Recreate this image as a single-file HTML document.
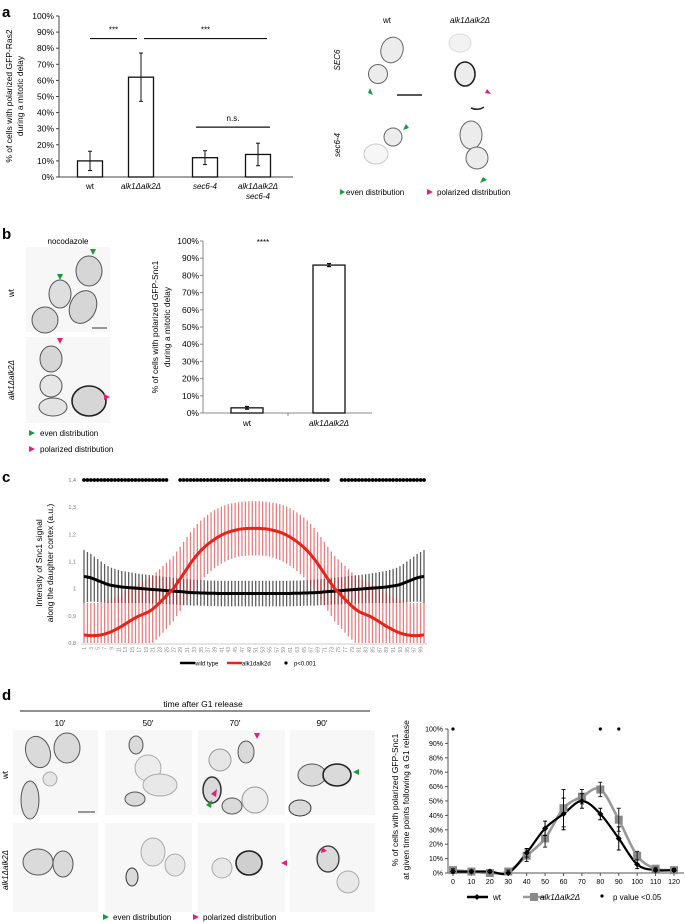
<!DOCTYPE html>
<html><head><meta charset="utf-8"><style>
html,body{margin:0;padding:0;background:#fff;}
svg{display:block;font-family:"Liberation Sans",Arial,sans-serif;}
</style></head><body>
<svg id="fig" width="685" height="924" viewBox="0 0 685 924" xmlns="http://www.w3.org/2000/svg">
<g id="pa"></g>
<g id="paimg">
 <text x="2" y="17" font-size="15" font-weight="bold">a</text>
 <text x="387" y="23" font-size="8" text-anchor="middle">wt</text>
 <text x="470" y="23" font-size="8" font-style="italic" text-anchor="middle">alk1Δalk2Δ</text>
 <text transform="translate(340,60) rotate(-90)" font-size="8" font-style="italic" text-anchor="middle">SEC6</text>
 <text transform="translate(340,145) rotate(-90)" font-size="8" font-style="italic" text-anchor="middle">sec6-4</text>
 <g fill="#ececec" stroke="#666" stroke-width="1">
  <ellipse cx="392" cy="50" rx="11" ry="13" transform="rotate(20 392 50)"/>
  <circle cx="378" cy="74" r="9.5"/>
  <ellipse cx="465" cy="74" rx="10" ry="12" stroke="#222" stroke-width="1.6"/>
  <ellipse cx="460" cy="43" rx="11" ry="9" stroke="#ddd" fill="#f2f2f2"/>
  <circle cx="393" cy="137" r="9"/>
  <ellipse cx="376" cy="154" rx="12" ry="10" stroke="#ccc" fill="#f6f6f6"/>
  <ellipse cx="471" cy="135" rx="11" ry="14"/>
  <circle cx="477" cy="158" r="11"/>
 </g>
 <path d="M484,107 Q478,111 471,108" stroke="#222" stroke-width="1.5" fill="none"/>
 <line x1="397" y1="95" x2="422" y2="95" stroke="#222" stroke-width="1.5"/>
 <polygon points="370,88 373,95 368,93" fill="#1a9a3a"/>
 <polygon points="406,124 409,128 403,130" fill="#1a9a3a"/>
 <polygon points="487,89 491,94 485,93" fill="#e0207a"/>
 <polygon points="483,177 487,180 480,183" fill="#1a9a3a"/>
 <polygon points="340,189 345,192 340,195" fill="#1a9a3a"/>
 <text x="346" y="195" font-size="8">even distribution</text>
 <polygon points="427,189 433,192 427,195" fill="#e0207a"/>
 <text x="437" y="195" font-size="8">polarized distribution</text>
</g>
<g id="pbimg">
 <text x="2" y="239" font-size="15" font-weight="bold">b</text>
 <text x="68" y="244" font-size="8" text-anchor="middle">nocodazole</text>
 <text transform="translate(14,293) rotate(-90)" font-size="8" text-anchor="middle">wt</text>
 <text transform="translate(14,380) rotate(-90)" font-size="8" font-style="italic" text-anchor="middle">alk1Δalk2Δ</text>
 <rect x="26" y="247" width="84" height="85" fill="#f7f7f7"/>
 <rect x="26" y="337" width="84" height="86" fill="#f7f7f7"/>
 <g fill="#d6d6d6" stroke="#555" stroke-width="1">
  <ellipse cx="89" cy="271" rx="13" ry="15"/>
  <ellipse cx="60" cy="294" rx="11" ry="14" fill="#dedede"/>
  <ellipse cx="83" cy="307" rx="13" ry="17" transform="rotate(25 83 307)"/>
  <circle cx="45" cy="320" r="13"/>
  <ellipse cx="51" cy="359" rx="11" ry="13"/>
  <circle cx="51" cy="386" r="11" fill="#e6e6e6"/>
  <ellipse cx="53" cy="407" rx="14" ry="9" fill="#e3e3e3"/>
  <ellipse cx="89" cy="401" rx="17" ry="15" stroke="#222" stroke-width="1.6"/>
 </g>
 <line x1="92" y1="328" x2="107" y2="328" stroke="#777" stroke-width="1.5"/>
 <polygon points="90,249 96,249 93,255" fill="#1a9a3a"/>
 <polygon points="57,274 63,274 60,280" fill="#1a9a3a"/>
 <polygon points="57,338 63,338 60,344" fill="#e0207a"/>
 <polygon points="104,394 110,397 104,400" fill="#e0207a"/>
 <polygon points="29,430 35,433 29,436" fill="#1a9a3a"/>
 <text x="40" y="436" font-size="8">even distribution</text>
 <polygon points="29,446 35,449 29,452" fill="#e0207a"/>
 <text x="40" y="452" font-size="8">polarized distribution</text>
</g>
<g id="pb"></g>
<g id="pc">
 <text x="2" y="482" font-size="15" font-weight="bold">c</text>
</g>
<g id="pdimg">
 <text x="2" y="700" font-size="15" font-weight="bold">d</text>
 <text x="203" y="707" font-size="8.5" text-anchor="middle">time after G1 release</text>
 <line x1="20" y1="711" x2="370" y2="711" stroke="#222" stroke-width="1"/>
 <text x="60" y="726" font-size="8.5" text-anchor="middle">10'</text>
 <text x="148" y="726" font-size="8.5" text-anchor="middle">50'</text>
 <text x="235" y="726" font-size="8.5" text-anchor="middle">70'</text>
 <text x="322" y="726" font-size="8.5" text-anchor="middle">90'</text>
 <text transform="translate(8,775) rotate(-90)" font-size="8" text-anchor="middle">wt</text>
 <text transform="translate(8,870) rotate(-90)" font-size="8" font-style="italic" text-anchor="middle">alk1Δalk2Δ</text>
 <g fill="#f7f7f7">
  <rect x="13" y="730" width="85" height="85"/><rect x="105" y="730" width="87" height="85"/>
  <rect x="198" y="730" width="87" height="85"/><rect x="290" y="730" width="85" height="85"/>
  <rect x="13" y="823" width="85" height="89"/><rect x="105" y="823" width="87" height="89"/>
  <rect x="198" y="823" width="87" height="89"/><rect x="290" y="823" width="85" height="89"/>
 </g>
 <g fill="#dadada" stroke="#555" stroke-width="1">
  <ellipse cx="38" cy="752" rx="12" ry="16" transform="rotate(-20 38 752)"/>
  <ellipse cx="67" cy="748" rx="13" ry="15"/>
  <circle cx="50" cy="779" r="7" fill="#e6e6e6" stroke="#aaa"/>
  <ellipse cx="30" cy="800" rx="9" ry="19"/>
  <ellipse cx="136" cy="745" rx="7" ry="9"/>
  <circle cx="148" cy="768" r="13" fill="#ececec" stroke="#aaa"/>
  <ellipse cx="160" cy="785" rx="17" ry="11" fill="#e8e8e8" stroke="#aaa"/>
  <ellipse cx="135" cy="799" rx="10" ry="7"/>
  <ellipse cx="246" cy="752" rx="8" ry="11"/>
  <circle cx="220" cy="760" r="11" fill="#e6e6e6" stroke="#999"/>
  <ellipse cx="212" cy="790" rx="9" ry="13" stroke="#333" stroke-width="1.5"/>
  <circle cx="255" cy="800" r="13" fill="#ececec" stroke="#999"/>
  <ellipse cx="232" cy="806" rx="10" ry="8"/>
  <ellipse cx="312" cy="775" rx="14" ry="11"/>
  <ellipse cx="337" cy="775" rx="14" ry="11" stroke="#222" stroke-width="1.6"/>
  <ellipse cx="300" cy="808" rx="11" ry="8" stroke="#333"/>
  <ellipse cx="38" cy="862" rx="15" ry="13"/>
  <ellipse cx="63" cy="864" rx="10" ry="13"/>
  <ellipse cx="153" cy="852" rx="12" ry="14" fill="#e8e8e8" stroke="#aaa"/>
  <ellipse cx="175" cy="865" rx="10" ry="11" fill="#e8e8e8" stroke="#aaa"/>
  <ellipse cx="132" cy="877" rx="6" ry="9" stroke="#333"/>
  <ellipse cx="222" cy="868" rx="10" ry="10" fill="#e8e8e8" stroke="#aaa"/>
  <ellipse cx="249" cy="863" rx="13" ry="12" fill="#cfcfcf" stroke="#222" stroke-width="1.6"/>
  <ellipse cx="328" cy="859" rx="11" ry="13" stroke="#333" stroke-width="1.3"/>
  <ellipse cx="348" cy="882" rx="11" ry="11" fill="#e8e8e8" stroke="#aaa"/>
 </g>
 <line x1="78" y1="812" x2="95" y2="812" stroke="#777" stroke-width="1.5"/>
 <polygon points="254,733 260,733 257,739" fill="#e0207a"/>
 <polygon points="217,789 211,794 216,797" fill="#e0207a"/>
 <polygon points="212,800 206,805 211,808" fill="#1a9a3a"/>
 <polygon points="353,772 359,769 359,775" fill="#1a9a3a"/>
 <polygon points="287,860 281,863 287,866" fill="#e0207a"/>
 <polygon points="322,847 327,851 321,853" fill="#e0207a"/>
 <polygon points="103,914 109,917 103,920" fill="#1a9a3a"/>
 <text x="113" y="920" font-size="8">even distribution</text>
 <polygon points="193,914 199,917 193,920" fill="#e0207a"/>
 <text x="203" y="920" font-size="8">polarized distribution</text>
</g>
<g id="pd"></g>
</svg>
<script>
// ---------- Panel a data ----------
const aCategories = ["wt","alk1Δalk2Δ","sec6-4","alk1Δalk2Δ|sec6-4"];
const aValues = [10, 62, 12, 14];
const aErrors = [6, 15, 4.3, 7];
const aTicks = [0,10,20,30,40,50,60,70,80,90,100];
// ---------- Panel b data ----------
const bCategories = ["wt","alk1Δalk2Δ"];
const bValues = [3, 86];
const bErrors = [0.8, 0.9];
const bTicks = [0,10,20,30,40,50,60,70,80,90,100];
// ---------- Panel c data ----------
const cWildType = [1.045,1.043,1.04,1.035,1.03,1.025,1.02,1.015,1.012,1.01,1.008,1.006,1.005,1.004,1.003,1.002,1.001,1.0,0.999,0.998,0.997,0.996,0.995,0.994,0.993,0.992,0.991,0.99,0.989,0.988,0.987,0.986,0.985,0.985,0.984,0.984,0.983,0.983,0.983,0.982,0.982,0.982,0.982,0.982,0.982,0.982,0.982,0.982,0.982,0.982,0.982,0.982,0.982,0.982,0.982,0.982,0.982,0.982,0.982,0.982,0.982,0.983,0.983,0.983,0.984,0.984,0.985,0.985,0.986,0.987,0.988,0.989,0.99,0.991,0.992,0.993,0.994,0.995,0.996,0.997,0.998,0.999,1.0,1.001,1.002,1.003,1.004,1.005,1.006,1.008,1.01,1.012,1.015,1.02,1.025,1.03,1.035,1.04,1.043,1.045];
const cWildTypeErr = [0.097,0.092,0.088,0.083,0.079,0.075,0.071,0.068,0.065,0.063,0.061,0.059,0.058,0.057,0.056,0.055,0.054,0.053,0.053,0.052,0.052,0.051,0.051,0.05,0.05,0.05,0.049,0.049,0.049,0.048,0.048,0.048,0.048,0.047,0.047,0.047,0.047,0.047,0.047,0.047,0.047,0.047,0.047,0.047,0.047,0.047,0.047,0.047,0.047,0.047,0.047,0.047,0.047,0.047,0.047,0.047,0.047,0.047,0.047,0.047,0.047,0.047,0.047,0.047,0.047,0.047,0.047,0.048,0.048,0.048,0.048,0.049,0.049,0.049,0.05,0.05,0.05,0.051,0.051,0.052,0.052,0.053,0.053,0.054,0.055,0.056,0.057,0.058,0.059,0.061,0.063,0.065,0.068,0.071,0.075,0.079,0.083,0.088,0.092,0.097];
const cMutant = [0.83,0.828,0.827,0.827,0.828,0.83,0.833,0.837,0.842,0.848,0.855,0.862,0.87,0.878,0.886,0.893,0.9,0.905,0.91,0.916,0.925,0.936,0.948,0.961,0.974,0.987,1.0,1.018,1.036,1.055,1.074,1.093,1.11,1.126,1.14,1.152,1.163,1.173,1.182,1.19,1.197,1.203,1.208,1.212,1.215,1.218,1.22,1.221,1.222,1.222,1.222,1.222,1.221,1.22,1.218,1.215,1.212,1.208,1.203,1.197,1.19,1.182,1.173,1.163,1.152,1.14,1.126,1.11,1.093,1.074,1.055,1.036,1.018,1.0,0.987,0.974,0.961,0.948,0.936,0.925,0.916,0.91,0.905,0.9,0.893,0.886,0.878,0.87,0.862,0.855,0.848,0.842,0.837,0.833,0.83,0.828,0.827,0.827,0.828,0.83];
const cMutantErr = [0.12,0.12,0.12,0.12,0.12,0.12,0.12,0.12,0.12,0.12,0.12,0.12,0.12,0.12,0.12,0.12,0.12,0.121,0.122,0.123,0.124,0.124,0.124,0.123,0.122,0.121,0.12,0.119,0.118,0.117,0.116,0.115,0.114,0.112,0.111,0.11,0.109,0.108,0.107,0.106,0.105,0.104,0.103,0.102,0.101,0.1,0.1,0.1,0.1,0.1,0.1,0.1,0.1,0.1,0.1,0.101,0.102,0.103,0.104,0.105,0.106,0.107,0.108,0.109,0.11,0.111,0.112,0.114,0.115,0.116,0.117,0.118,0.119,0.12,0.121,0.122,0.123,0.124,0.124,0.124,0.123,0.122,0.121,0.12,0.12,0.12,0.12,0.12,0.12,0.12,0.12,0.12,0.12,0.12,0.12,0.12,0.12,0.12,0.12,0.12];
const cSignificant = [1,1,1,1,1,1,1,1,1,1,1,1,1,1,1,1,1,1,1,1,1,1,1,1,1,0,0,0,1,1,1,1,1,1,1,1,1,1,1,1,1,1,1,1,1,1,1,1,1,1,1,1,1,1,1,1,1,1,1,1,1,1,1,1,1,1,1,1,1,1,1,1,0,0,0,1,1,1,1,1,1,1,1,1,1,1,1,1,1,1,1,1,1,1,1,1,1,1,1,1];
const cTicks = [0.8,0.9,1,1.1,1.2,1.3,1.4];
// ---------- Panel d data ----------
const dTimes = [0,10,20,30,40,50,60,70,80,90,100,110,120];
const dWt = [1,1,1,0,14,31,41,50,41,24,6,2,2];
const dWtErr = [1,1,1,0.5,3,5,11,5,4,8,3,1,1];
const dAlk = [2,1,0,1,12,24,45,53,58,37,12,3,2];
const dAlkErr = [1,1,1,1,4,6,13,5,5,8,3,1,1];
const dSignificant = [0, 80, 90];
const dTicks = [0,10,20,30,40,50,60,70,80,90,100];

const NS = "http://www.w3.org/2000/svg";
function mk(parent, tag, attrs, text){
  const e = document.createElementNS(NS, tag);
  for (const k in attrs) e.setAttribute(k, attrs[k]);
  if (text !== undefined) e.textContent = text;
  parent.appendChild(e);
  return e;
}

// ===== Panel a =====
(function(){
  const g = document.getElementById('pa');
  const x0 = 59, x1 = 293, yb = 177, yt = 16;
  const y = v => yb - (v/100)*(yb-yt);
  const xs = i => 90 + i*((258-90)/3) + (i===1?-5:0) + (i===2?3:0);
  mk(g,'line',{x1:x0,y1:yt,x2:x0,y2:yb,stroke:'#444','stroke-width':1});
  mk(g,'line',{x1:x0,y1:yb,x2:x1,y2:yb,stroke:'#444','stroke-width':1});
  aTicks.forEach(t=>{
    mk(g,'line',{x1:x0-3,y1:y(t),x2:x0,y2:y(t),stroke:'#444'});
    const tx = mk(g,'text',{x:x0-5,y:y(t)+3,'font-size':8.5,'text-anchor':'end'}, t+'%');
    
    
  });
  const yt1 = mk(g,'text',{transform:'translate(12,96) rotate(-90)','font-size':8.5,'text-anchor':'middle'},'% of cells with polarized GFP-Ras2');
  
  
  const yt2 = mk(g,'text',{transform:'translate(23,96) rotate(-90)','font-size':8.5,'text-anchor':'middle'},'during a mitotic delay');
  
  
  aValues.forEach((v,i)=>{
    const cx = xs(i);
    const r = mk(g,'rect',{x:cx-12.5,y:y(v),width:25,height:yb-y(v),fill:'#fff',stroke:'#111','stroke-width':1.3});
    
    
    const e = aErrors[i];
    mk(g,'line',{x1:cx,y1:y(v+e),x2:cx,y2:y(v-e),stroke:'#111','stroke-width':1});
    mk(g,'line',{x1:cx-2,y1:y(v+e),x2:cx+2,y2:y(v+e),stroke:'#111','stroke-width':1});
    mk(g,'line',{x1:cx-2,y1:y(v-e),x2:cx+2,y2:y(v-e),stroke:'#111','stroke-width':1});
    const parts = aCategories[i].split('|');
    parts.forEach((p,j)=>{
      const t = mk(g,'text',{x:cx,y:189+j*10,'font-size':8,'text-anchor':'middle','font-style':i===0?'normal':'italic'},p);
      
      
    });
  });
  const sig = [[xs(0),xs(1)-4,86,'***'],[xs(1)+3,xs(3)+9,86,'***'],[xs(2)-9,xs(3)+12,31,'n.s.']];
  sig.forEach(s=>{
    const l = mk(g,'line',{x1:s[0],y1:y(s[2]),x2:s[1],y2:y(s[2]),stroke:'#111','stroke-width':1.2});
    
    
    const t = mk(g,'text',{x:(s[0]+s[1])/2,y:y(s[2])-6,'font-size':8,'text-anchor':'middle'},s[3]);
    
    
  });
})();

// ===== Panel b =====
(function(){
  const g = document.getElementById('pb');
  const x0 = 203, x1 = 372, yb = 413, yt = 241;
  const y = v => yb - (v/100)*(yb-yt);
  const xs = [247, 329];
  mk(g,'line',{x1:x0,y1:yt,x2:x0,y2:yb,stroke:'#888','stroke-width':1});
  mk(g,'line',{x1:x0,y1:yb,x2:x1,y2:yb,stroke:'#888','stroke-width':1});
  mk(g,'line',{x1:288,y1:yb,x2:288,y2:yb+3,stroke:'#888'});
  bTicks.forEach(t=>{
    mk(g,'line',{x1:x0-3,y1:y(t),x2:x0,y2:y(t),stroke:'#888'});
    const tx = mk(g,'text',{x:x0-4,y:y(t)+3,'font-size':8.5,'text-anchor':'end'}, t+'%');
    
    
  });
  const a1 = mk(g,'text',{transform:'translate(158,327) rotate(-90)','font-size':8.5,'text-anchor':'middle'},'% of cells with polarized GFP-Snc1');
  
  
  const a2 = mk(g,'text',{transform:'translate(170,327) rotate(-90)','font-size':8.5,'text-anchor':'middle'},'during a mitotic delay');
  
  
  bValues.forEach((v,i)=>{
    const cx = xs[i];
    const r = mk(g,'rect',{x:cx-16,y:y(v),width:32,height:yb-y(v),fill:'#fff',stroke:'#111','stroke-width':1.3});
    
    
    const e = bErrors[i];
    mk(g,'line',{x1:cx,y1:y(v+e),x2:cx,y2:y(v-e),stroke:'#111','stroke-width':1.2});
    mk(g,'line',{x1:cx-2,y1:y(v+e),x2:cx+2,y2:y(v+e),stroke:'#111','stroke-width':1.2});
    mk(g,'line',{x1:cx-2,y1:y(v-e),x2:cx+2,y2:y(v-e),stroke:'#111','stroke-width':1.2});
    const t = mk(g,'text',{x:cx,y:426,'font-size':8,'text-anchor':'middle','font-style':i===0?'normal':'italic'},bCategories[i]);
    
    
  });
  const s = mk(g,'text',{x:263,y:245,'font-size':8,'text-anchor':'middle'},'****');
  
  
})();

// ===== Panel c =====
(function(){
  const g = document.getElementById('pc');
  const x0 = 84, x1 = 424, yb = 643, yt = 480;
  const n = cWildType.length;
  const x = i => x0 + i*(x1-x0)/(n-1);
  const y = v => yb - (v-0.8)/(1.4-0.8)*(yb-yt);
  const defs = mk(g,'defs',{});
  const cp = mk(defs,'clipPath',{id:'cclip'});
  mk(cp,'rect',{x:x0-5,y:yt-10,width:x1-x0+10,height:yb-yt+10});
  mk(g,'line',{x1:x0-3,y1:yb+1,x2:x1+3,y2:yb+1,stroke:'#ddd','stroke-width':1.5});
  cTicks.forEach(t=>{
    const tx = mk(g,'text',{x:76,y:y(t)+2,'font-size':5.5,fill:'#777','text-anchor':'end'}, String(t).replace('.',','));
    
    
  });
  for (let i=0;i<n;i+=2){
    const tx = mk(g,'text',{transform:`translate(${x(i)+2},${yb+4}) rotate(-90)`,'font-size':5,fill:'#888','text-anchor':'end'}, String(i+1));
    
    
  }
  const a1 = mk(g,'text',{transform:'translate(42,563) rotate(-90)','font-size':8.5,'text-anchor':'middle'},'Intensity of Snc1 signal');
  
  
  const a2 = mk(g,'text',{transform:'translate(53,563) rotate(-90)','font-size':8.5,'text-anchor':'middle'},'along the daughter cortex (a.u.)');
  
  
  const cg = mk(g,'g',{'clip-path':'url(#cclip)'});
  for (let i=0;i<n;i++){
    const l = mk(cg,'line',{x1:x(i),y1:y(cWildType[i]+cWildTypeErr[i]),x2:x(i),y2:y(cWildType[i]-cWildTypeErr[i]),stroke:'rgba(40,40,40,0.75)','stroke-width':1.3});
    
    
  }
  for (let i=0;i<n;i++){
    const l = mk(cg,'line',{x1:x(i),y1:y(cMutant[i]+cMutantErr[i]),x2:x(i),y2:y(cMutant[i]-cMutantErr[i]),stroke:'rgba(215,40,40,0.6)','stroke-width':1.3});
    
    
  }
  const pw = mk(cg,'polyline',{points:cWildType.map((v,i)=>x(i)+','+y(v)).join(' '),fill:'none',stroke:'#000','stroke-width':3});
  
  
  const pm = mk(cg,'polyline',{points:cMutant.map((v,i)=>x(i)+','+y(v)).join(' '),fill:'none',stroke:'#e8231c','stroke-width':3});
  
  
  cSignificant.forEach((s,i)=>{
    if (!s) return;
    const d = mk(g,'circle',{cx:x(i),cy:y(1.4),r:1.9,fill:'#000'});
    
    
  });
  // legend
  mk(g,'line',{x1:180,y1:663,x2:195,y2:663,stroke:'#000','stroke-width':2.5});
  const l1 = mk(g,'text',{x:195,y:665.5,'font-size':6},'wild type');
  
  
  mk(g,'line',{x1:227,y1:663,x2:242,y2:663,stroke:'#e8231c','stroke-width':2.5});
  const l2 = mk(g,'text',{x:242,y:665.5,'font-size':6},'alk1dalk2d');
  
  
  mk(g,'circle',{cx:286,cy:663,r:1.6,fill:'#000'});
  const l3 = mk(g,'text',{x:294,y:665.5,'font-size':6},'p<0.001');
  
  
})();

// ===== Panel d =====
(function(){
  const g = document.getElementById('pd');
  const x0 = 448, yb = 873, yt = 729;
  const x = t => 453 + (t/120)*(674-453);
  const y = v => yb - (v/100)*(yb-yt);
  mk(g,'line',{x1:x0,y1:yt,x2:x0,y2:yb,stroke:'#555'});
  mk(g,'line',{x1:x0,y1:yb,x2:684,y2:yb,stroke:'#555'});
  dTicks.forEach(t=>{
    mk(g,'line',{x1:x0-3,y1:y(t),x2:x0,y2:y(t),stroke:'#555'});
    const tx = mk(g,'text',{x:x0-5,y:y(t)+2.5,'font-size':7,'text-anchor':'end'}, t+'%');
    
    
  });
  dTimes.forEach(t=>{
    mk(g,'line',{x1:x(t),y1:yb,x2:x(t),y2:yb+3,stroke:'#555'});
    const tx = mk(g,'text',{x:x(t),y:yb+11,'font-size':7,'text-anchor':'middle'}, String(t));
    
    
  });
  const a1 = mk(g,'text',{transform:'translate(398,800) rotate(-90)','font-size':8.5,'text-anchor':'middle'},'% of cells with polarized GFP-Snc1');
  
  
  const a2 = mk(g,'text',{transform:'translate(409,800) rotate(-90)','font-size':8.5,'text-anchor':'middle'},'at given time points following a G1 release');
  
  
  function smooth(vals){
    const p = vals.map((v,i)=>[x(dTimes[i]),y(v)]);
    let d = 'M'+p[0][0]+','+p[0][1];
    for (let i=0;i<p.length-1;i++){
      const p0=p[Math.max(0,i-1)],p1=p[i],p2=p[i+1],p3=p[Math.min(p.length-1,i+2)];
      const c1=[p1[0]+(p2[0]-p0[0])/6,p1[1]+(p2[1]-p0[1])/6];
      const c2=[p2[0]-(p3[0]-p1[0])/6,p2[1]-(p3[1]-p1[1])/6];
      d+=` C${c1[0]},${c1[1]} ${c2[0]},${c2[1]} ${p2[0]},${p2[1]}`;
    }
    return d;
  }
  const la = mk(g,'path',{d:smooth(dAlk),fill:'none',stroke:'#999','stroke-width':2.6});
  
  
  const lw = mk(g,'path',{d:smooth(dWt),fill:'none',stroke:'#000','stroke-width':2.2});
  
  
  function errs(vals, errsArr, color, name){
    vals.forEach((v,i)=>{
      const cx = x(dTimes[i]), e = errsArr[i];
      const l = mk(g,'path',{d:`M${cx},${y(v+e)}V${y(Math.max(0,v-e))}M${cx-2},${y(v+e)}H${cx+2}M${cx-2},${y(Math.max(0,v-e))}H${cx+2}`,stroke:color,'stroke-width':1,fill:'none'});
      
      
    });
  }
  dAlk.forEach((v,i)=>{
    const r = mk(g,'rect',{x:x(dTimes[i])-4,y:y(v)-4,width:8,height:8,fill:'#8a8a8a'});
    
    
  });
  dWt.forEach((v,i)=>{
    const cx=x(dTimes[i]), cy=y(v);
    const r = mk(g,'polygon',{points:`${cx},${cy-3} ${cx+3},${cy} ${cx},${cy+3} ${cx-3},${cy}`,fill:'#000'});
    
    
  });
  errs(dAlk,dAlkErr,'#222','alk-error-bar');
  errs(dWt,dWtErr,'#000','wt-error-bar');
  dSignificant.forEach(t=>{
    const c = mk(g,'circle',{cx:x(t),cy:y(100),r:1.6,fill:'#000'});
    
    
  });
  mk(g,'line',{x1:467,y1:897,x2:488,y2:897,stroke:'#000','stroke-width':2.5});
  mk(g,'polygon',{points:'477,894 480,897 477,900 474,897',fill:'#000'});
  const t1 = mk(g,'text',{x:493,y:900,'font-size':8},'wt');
  
  
  mk(g,'line',{x1:523,y1:897,x2:545,y2:897,stroke:'#999','stroke-width':2.5});
  mk(g,'rect',{x:530,y:893,width:8,height:8,fill:'#8a8a8a'});
  const t2 = mk(g,'text',{x:540,y:900,'font-size':8,'font-style':'italic'},'alk1Δalk2Δ');
  
  
  mk(g,'circle',{cx:602,cy:896,r:1.6,fill:'#000'});
  const t3 = mk(g,'text',{x:613,y:900,'font-size':8},'p value <0.05');
  
  
})();
</script>
</body></html>
